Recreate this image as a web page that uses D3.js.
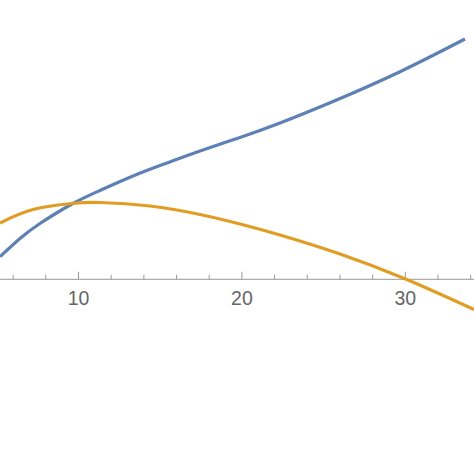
<!DOCTYPE html>
<html>
<head>
<meta charset="utf-8">
<script src="https://cdn.jsdelivr.net/npm/d3@7"></script>
<style>
  body { margin: 0; background: #fff; }
  .axis text { font-family: "Liberation Sans", Arial, sans-serif; font-size: 19.5px; fill: #666; }
  .axis path, .axis line { stroke: #999; stroke-width: 1; }
</style>
</head>
<body>
<div class="chart"></div>
<script>
// data
var blueX = [5.226, 6.45, 7.674, 9.633, 11.346, 13.366, 15.447, 17.466, 19.914, 22.362, 25.606, 29.706, 33.684];
var blueY = [1.13, 2.04, 2.79, 3.765, 4.44, 5.165, 5.815, 6.415, 7.09, 7.815, 8.89, 10.38, 12.015];

var orangeX = [5.226, 7.246, 9.633, 11.346, 14.406, 17.466, 19.914, 22.362, 26.034, 30.012, 34.235];
var orangeY = [2.815, 3.49, 3.79, 3.84, 3.665, 3.24, 2.765, 2.215, 1.265, 0.025, -1.51];

var majorTicks = [10, 20, 30];
var minorTicks = [6, 8, 12, 14, 16, 18, 22, 24, 26, 28, 32, 34];

var svgWidth = 474;
var svgHeight = 474;

var svg = d3.select(".chart")
  .append("svg")
  .attr("width", svgWidth)
  .attr("height", svgHeight);

// scales: 10 units on x = 163.4 px, axis sits at y = 279.3
var xScale = d3.scaleLinear()
  .domain([10, 30])
  .range([78, 404.8]);

var yScale = d3.scaleLinear()
  .domain([0, 10])
  .range([279.3, 79.3]);

// axis line across the whole width
svg.append("line")
  .attr("x1", 0)
  .attr("x2", svgWidth)
  .attr("y1", yScale(0))
  .attr("y2", yScale(0))
  .attr("stroke", "#999");

// minor ticks
svg.append("g")
  .attr("class", "axis")
  .attr("transform", `translate(0, ${yScale(0)})`)
  .call(d3.axisBottom(xScale).tickValues(minorTicks).tickSizeInner(-4.5).tickSizeOuter(0).tickFormat(""))
  .select(".domain").remove();

// major ticks with labels
svg.append("g")
  .attr("class", "axis")
  .attr("transform", `translate(0, ${yScale(0)})`)
  .call(d3.axisBottom(xScale).tickValues(majorTicks).tickSizeInner(-7.5).tickSizeOuter(0).tickPadding(12).tickFormat(d3.format("d")))
  .select(".domain").remove();

var line = d3.line()
  .x(d => xScale(d[0]))
  .y(d => yScale(d[1]))
  .curve(d3.curveNatural);

var blue = blueX.map((x, i) => [x, blueY[i]]);
var orange = orangeX.map((x, i) => [x, orangeY[i]]);

svg.append("path")
  .datum(blue)
  .attr("d", line)
  .attr("fill", "none")
  .attr("stroke", "#5E81B5")
  .attr("stroke-width", 3.2);

svg.append("path")
  .datum(orange)
  .attr("d", line)
  .attr("fill", "none")
  .attr("stroke", "#E19C24")
  .attr("stroke-width", 3.2);
</script>
</body>
</html>
